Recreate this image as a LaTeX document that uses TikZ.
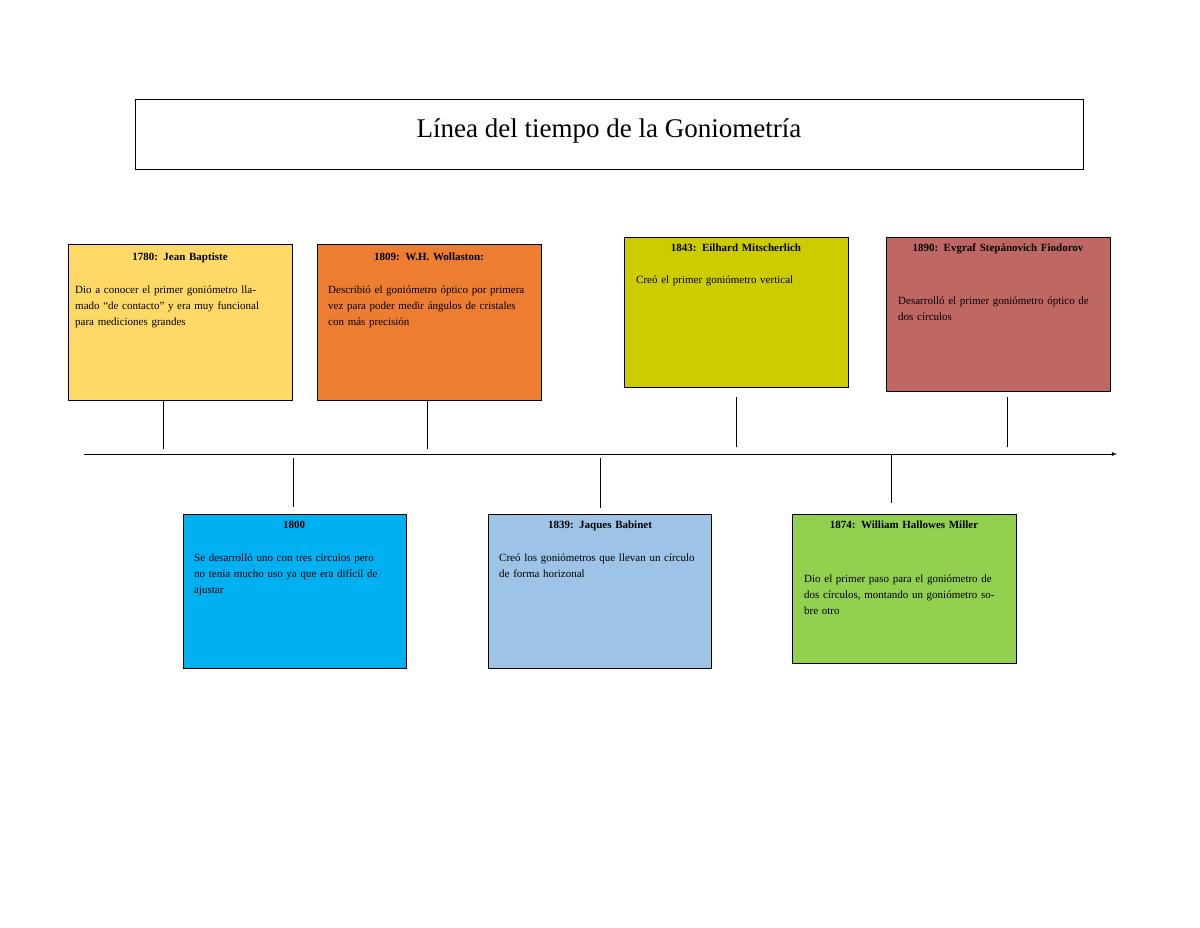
\documentclass[tikz,border=0pt]{standalone}
\usepackage{fontspec}
\setmainfont{Liberation Serif}
\begin{document}
\begin{tikzpicture}[x=1pt,y=-1pt,
  ev/.style={draw,line width=0.8pt,anchor=north west,inner sep=0pt},
  txt/.style={anchor=north west,text width=200pt,align=left,font=\fontsize{11}{16}\selectfont,inner sep=0pt},
  hd/.style={anchor=north,text width=210pt,align=center,font=\fontsize{11}{16}\selectfont\bfseries,inner sep=0pt},
  stem/.style={line width=0.8pt}]
\useasboundingbox (0,0) rectangle (1200,927);
\fill[white] (0,0) rectangle (1200,927);
\definecolor{cy}{HTML}{FFD966}\definecolor{co}{HTML}{ED7D31}\definecolor{cg}{HTML}{CCCC00}
\definecolor{cr}{HTML}{BF6762}\definecolor{cb}{HTML}{00B0F0}\definecolor{cl}{HTML}{9DC3E6}\definecolor{cgr}{HTML}{92D050}
\draw[line width=0.8pt] (135,99) rectangle (1083,169);
\node (title) at (609,131) {\fontsize{27}{32}\selectfont Línea del tiempo de la Goniometría};
\coordinate (a0) at (84,454); \coordinate (a1) at (1117,454);
\draw[line width=0.8pt,-latex] (a0) -- (a1);
% boxes
\draw[line width=0.8pt,fill=cy] (68,244) rectangle (292,400);
\node[hd] (h1) at (180,253) {1780: Jean Baptiste};
\node[txt] (t1) at (75,286) {Dio a conocer el primer goniómetro llamado “de contacto” y era muy funcional para mediciones grandes};
\draw[line width=0.8pt,fill=co] (317,244) rectangle (541,400);
\node[hd] (h2) at (429,253) {1809: W.H. Wollaston:};
\node[txt] (t2) at (328,286) {Describió el goniómetro óptico por primera vez para poder medir ángulos de cristales con más precisión};
\draw[line width=0.8pt,fill=cg] (624,237) rectangle (848,387);
\node[hd] (h3) at (736,244) {1843: Eilhard Mitscherlich};
\node[txt] (t3) at (636,276) {Creó el primer goniómetro vertical};
\draw[line width=0.8pt,fill=cr] (886,237) rectangle (1110,391);
\node[hd] (h4) at (998,244) {1890: Evgraf Stepánovich Fiodorov};
\node[txt] (t4) at (898,297) {Desarrolló el primer goniómetro óptico de dos círculos};
\draw[line width=0.8pt,fill=cb] (183,514) rectangle (406,668);
\node[hd] (h5) at (294,521) {1800};
\node[txt] (t5) at (194,554) {Se desarrolló uno con tres círculos pero no tenía mucho uso ya que era difícil de ajustar};
\draw[line width=0.8pt,fill=cl] (488,514) rectangle (711,668);
\node[hd] (h6) at (600,521) {1839: Jaques Babinet};
\node[txt] (t6) at (499,554) {Creó los goniómetros que llevan un círculo de forma horizonal};
\draw[line width=0.8pt,fill=cgr] (792,514) rectangle (1016,663);
\node[hd] (h7) at (904,521) {1874: William Hallowes Miller};
\node[txt] (t7) at (804,575) {Dio el primer paso para el goniómetro de dos círculos, montando un goniómetro sobre otro};
% stems
\draw[stem] (163,400) -- (163,449);
\draw[stem] (427,400) -- (427,449);
\draw[stem] (736,397) -- (736,447);
\draw[stem] (1007,397) -- (1007,447);
\draw[stem] (293,458) -- (293,507);
\draw[stem] (600,458) -- (600,508);
\draw[stem] (891,454) -- (891,503);
\end{tikzpicture}
\end{document}
